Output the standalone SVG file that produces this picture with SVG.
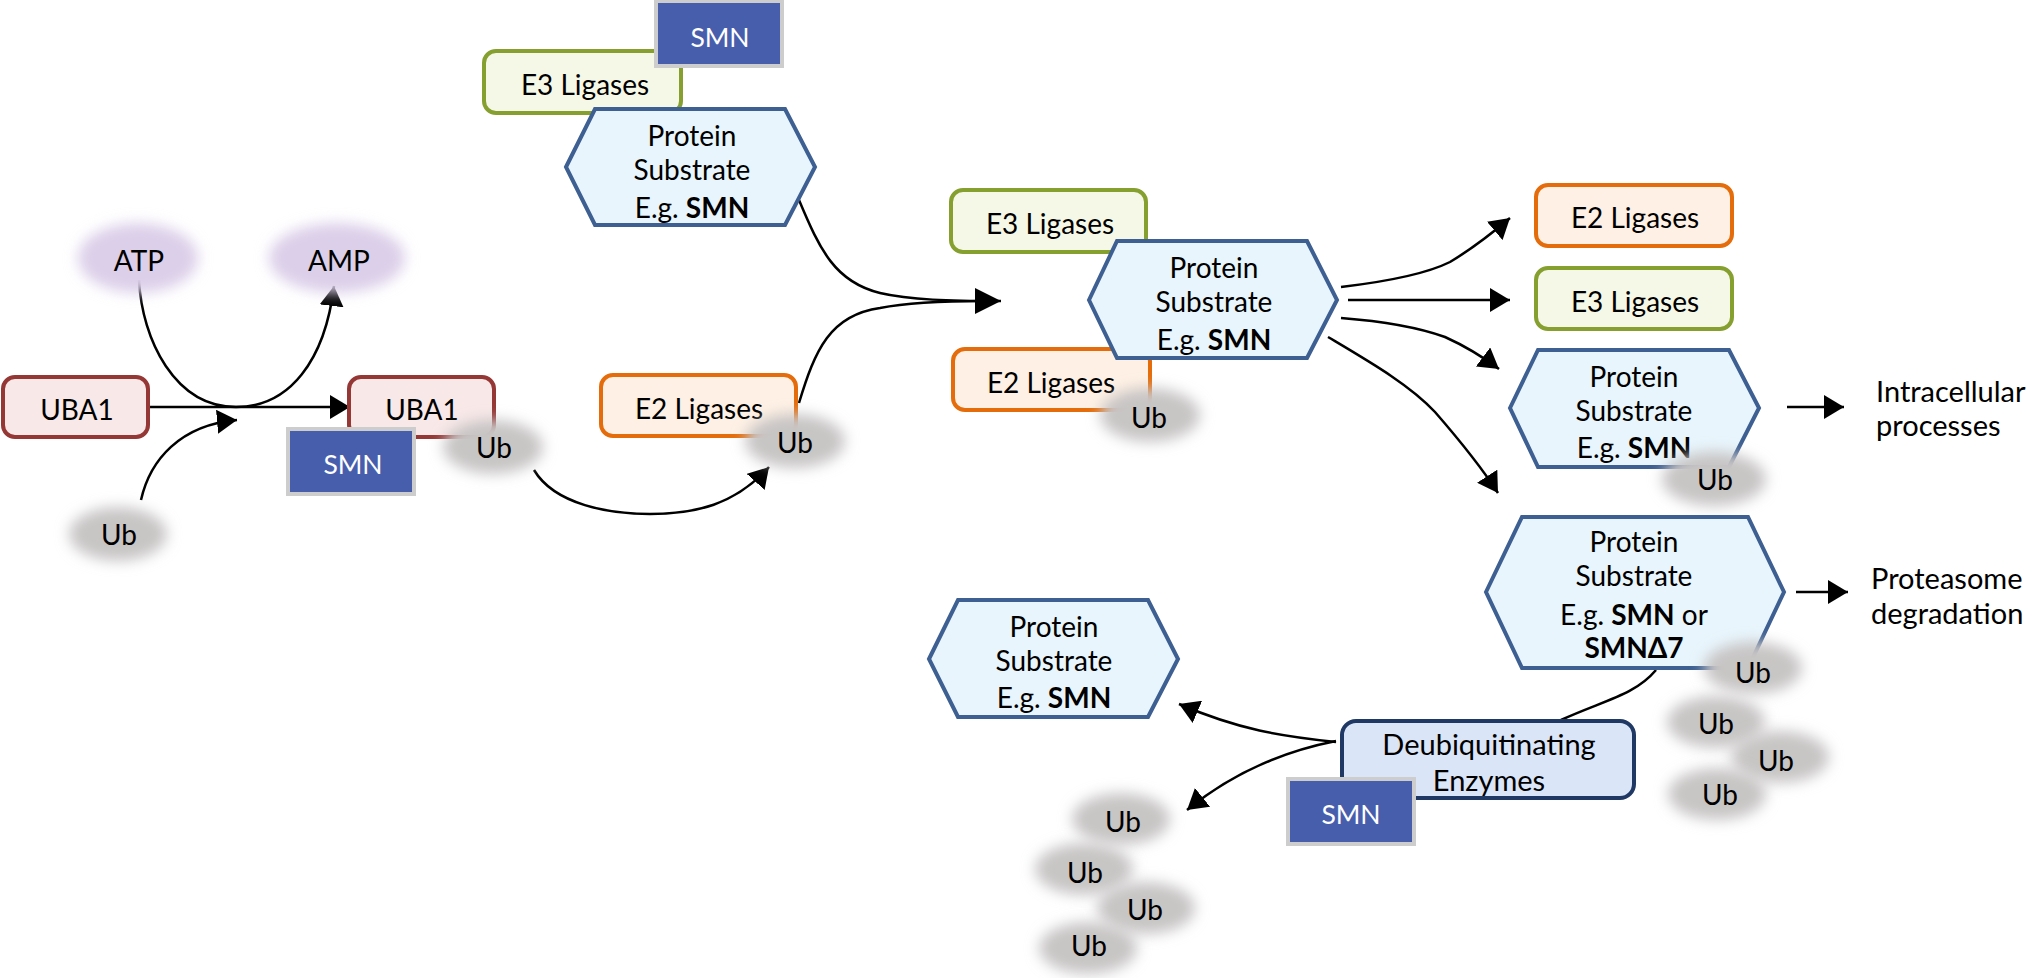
<svg xmlns="http://www.w3.org/2000/svg" width="2031" height="978" viewBox="0 0 2031 978">
<style>
text{font-family:Lato,"Noto Sans","Open Sans",sans-serif;font-size:28px;fill:#000;text-anchor:middle}
.b{font-weight:700}
.w{fill:#fff;font-size:26.5px}
.l{text-anchor:start;font-size:29px}
.d{font-size:29px}
.e2{fill:#fef0e4;stroke:#e56c0a;stroke-width:4}
.e3{fill:#f5f8e6;stroke:#86a02f;stroke-width:4}
.uba{fill:#f8e8e8;stroke:#953735;stroke-width:4}
.dub{fill:#dae5f7;stroke:#1f3864;stroke-width:4}
.smn{fill:#475ead;stroke:#cdcdcd;stroke-width:4}
.hex{fill:#e8f5fc;stroke:#3d5f91;stroke-width:4;stroke-linejoin:miter}
.ub{fill:#c8c5c5;filter:url(#soft)}
.pu{fill:#dccfe9;filter:url(#soft)}
.c{fill:none;stroke:#000;stroke-width:2.5;marker-end:url(#ah)}
.big{marker-end:url(#ahb)}
.n{fill:none;stroke:#000;stroke-width:2.5}
</style>
<defs>
<filter id="soft" x="-30%" y="-40%" width="160%" height="180%"><feGaussianBlur stdDeviation="7"/></filter>
<marker id="ah" markerUnits="userSpaceOnUse" markerWidth="20" markerHeight="24" refX="20" refY="12" orient="auto" viewBox="0 0 20 24"><path d="M0 0L20 12L0 24Z" fill="#000"/></marker>
<marker id="ahb" markerUnits="userSpaceOnUse" markerWidth="26" markerHeight="26" refX="26" refY="13" orient="auto" viewBox="0 0 26 26"><path d="M0 0L26 13L0 26Z" fill="#000"/></marker>
</defs>
<g id="connectors">
<path class="c" d="M149 407H350"/>
<path class="c" d="M139 280C142 340 175 407 236 407C290 407 325 360 334 286"/>
<path class="c" d="M141 500C150 460 180 425 237 420"/>
<path class="c" d="M534 470C555 505 610 514 650 514C695 514 735 505 769 467"/>
<path class="c big" d="M799 200C820 250 835 282 880 293C910 300 950 301 1001 301"/>
<path class="n" d="M799 403C815 350 830 315 880 308C910 302 950 301 985 301"/>
<path class="c" d="M1341 287C1400 280 1430 272 1450 262C1470 250 1490 235 1510 218"/>
<path class="c" d="M1348 300H1510"/>
<path class="c" d="M1341 318C1380 321 1420 328 1445 337C1465 346 1483 357 1499 369"/>
<path class="c" d="M1328 337C1370 362 1410 385 1435 412C1455 435 1480 465 1498 493"/>
<path class="c" d="M1787 407H1844"/>
<path class="c" d="M1796 592H1848"/>
<path class="n" d="M1656 670C1635 695 1605 700 1561 720"/>
<path class="c" d="M1336 742C1280 736 1240 730 1179 704"/>
<path class="c" d="M1336 741C1280 752 1230 775 1187 810"/>
</g>
<g id="atp"><ellipse class="pu" cx="138" cy="258" rx="60" ry="35"/><text x="139" y="271">ATP</text></g>
<g id="amp"><ellipse class="pu" cx="337" cy="258" rx="68" ry="35"/><text x="339" y="271">AMP</text></g>
<g id="uba1-a"><rect class="uba" x="3" y="377" width="145" height="60" rx="12"/><text x="77" y="420">UBA1</text></g>
<g id="uba1-b"><rect class="uba" x="349" y="377" width="145" height="60" rx="12"/><text x="422" y="420">UBA1</text></g>
<g id="smn-a"><rect class="smn" x="288" y="429" width="126" height="65"/><text class="w" x="353" y="474">SMN</text></g>
<g id="ub-a"><ellipse class="ub" cx="493" cy="447" rx="50" ry="27"/><text x="494" y="458">Ub</text></g>
<g id="ub-b"><ellipse class="ub" cx="118" cy="534" rx="49" ry="27"/><text x="119" y="545">Ub</text></g>
<g id="e2-a"><rect class="e2" x="601" y="375" width="195" height="61" rx="12"/><text x="699" y="419">E2 Ligases</text></g>
<g id="ub-c"><ellipse class="ub" cx="795" cy="441" rx="50" ry="27"/><text x="795" y="453">Ub</text></g>
<g id="e3-a"><rect class="e3" x="484" y="51" width="197" height="62" rx="12"/><text x="585" y="95">E3 Ligases</text></g>
<g id="smn-b"><rect class="smn" x="656" y="1" width="126" height="65"/><text class="w" x="720" y="47">SMN</text></g>
<g id="hex-a"><path class="hex" d="M566 167L595 109H785L815 167L785 225H595Z"/><text x="692" y="146">Protein</text><text x="692" y="180">Substrate</text><text x="692" y="218">E.g. <tspan class="b">SMN</tspan></text></g>
<g id="e3-b"><rect class="e3" x="951" y="190" width="195" height="62" rx="12"/><text x="1050" y="234">E3 Ligases</text></g>
<g id="e2-b"><rect class="e2" x="953" y="349" width="197" height="61" rx="12"/><text x="1051" y="393">E2 Ligases</text></g>
<g id="ub-d"><ellipse class="ub" cx="1150" cy="415" rx="50" ry="27"/><text x="1149" y="428">Ub</text></g>
<g id="hex-b"><path class="hex" d="M1089 300L1117 241H1307L1337 300L1307 358H1117Z"/><text x="1214" y="278">Protein</text><text x="1214" y="312">Substrate</text><text x="1214" y="350">E.g. <tspan class="b">SMN</tspan></text></g>
<g id="e2-c"><rect class="e2" x="1536" y="185" width="196" height="61" rx="12"/><text x="1635" y="228">E2 Ligases</text></g>
<g id="e3-c"><rect class="e3" x="1536" y="268" width="196" height="61" rx="12"/><text x="1635" y="312">E3 Ligases</text></g>
<g id="hex-c"><path class="hex" d="M1510 408L1538 350H1729L1759 408L1729 467H1538Z"/><text x="1634" y="387">Protein</text><text x="1634" y="421">Substrate</text><text x="1634" y="458">E.g. <tspan class="b">SMN</tspan></text></g>
<g id="ub-e"><ellipse class="ub" cx="1714" cy="479" rx="52" ry="27"/><text x="1715" y="490">Ub</text></g>
<g id="label-intracellular"><text class="l" x="1876" y="402">Intracellular</text><text class="l" x="1876" y="436">processes</text></g>
<g id="hex-d"><path class="hex" d="M1486 592L1522 517H1748L1784 592L1748 668H1522Z"/><text x="1634" y="552">Protein</text><text x="1634" y="586">Substrate</text><text x="1634" y="625">E.g. <tspan class="b">SMN</tspan> or</text><text class="b" x="1634" y="658">SMNΔ7</text></g>
<g id="label-proteasome"><text class="l" x="1871" y="589">Proteasome</text><text class="l" x="1871" y="624">degradation</text></g>
<g id="ub-f"><ellipse class="ub" cx="1753" cy="668" rx="49" ry="26"/><text x="1753" y="683">Ub</text></g>
<g id="ub-g"><ellipse class="ub" cx="1716" cy="722" rx="49" ry="26"/><text x="1716" y="734">Ub</text></g>
<g id="ub-h"><ellipse class="ub" cx="1780" cy="757" rx="49" ry="26"/><text x="1776" y="771">Ub</text></g>
<g id="ub-i"><ellipse class="ub" cx="1717" cy="794" rx="49" ry="26"/><text x="1720" y="805">Ub</text></g>
<g id="deub"><rect class="dub" x="1342" y="721" width="292" height="77" rx="14"/><text class="d" x="1489" y="755">Deubiquitinating</text><text class="d" x="1489" y="791">Enzymes</text></g>
<g id="smn-c"><rect class="smn" x="1288" y="779" width="126" height="65"/><text class="w" x="1351" y="824">SMN</text></g>
<g id="hex-e"><path class="hex" d="M929 659L958 600H1148L1178 659L1148 717H958Z"/><text x="1054" y="637">Protein</text><text x="1054" y="671">Substrate</text><text x="1054" y="708">E.g. <tspan class="b">SMN</tspan></text></g>
<g id="ub-j"><ellipse class="ub" cx="1121" cy="819" rx="49" ry="26"/><text x="1123" y="832">Ub</text></g>
<g id="ub-k"><ellipse class="ub" cx="1084" cy="869" rx="49" ry="26"/><text x="1085" y="883">Ub</text></g>
<g id="ub-l"><ellipse class="ub" cx="1146" cy="908" rx="49" ry="26"/><text x="1145" y="920">Ub</text></g>
<g id="ub-m"><ellipse class="ub" cx="1088" cy="948" rx="49" ry="26"/><text x="1089" y="956">Ub</text></g>
</svg>
